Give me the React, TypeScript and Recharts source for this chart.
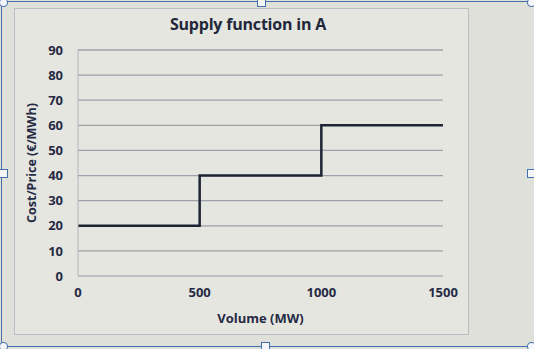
import { LineChart, Line, XAxis, YAxis, CartesianGrid } from "recharts"

const volumes = [0, 500, 1000, 1500]
const prices = [20, 40, 60, 60]
const xTicks = [0, 500, 1000, 1500]
const yTicks = [0, 10, 20, 30, 40, 50, 60, 70, 80, 90]

const data = volumes.map((v, i) => ({ volume: v, price: prices[i] }))

const font = "'Open Sans', sans-serif"
const ink = "#262a44"
const blue = "#4470ab"

function Handle({ x, y, round }: { x: number; y: number; round?: boolean }) {
  return (
    <div
      style={{
        position: "absolute",
        left: x - 4,
        top: y - 4,
        width: 7,
        height: 7,
        background: "#f4f6fa",
        border: `1px solid ${blue}`,
        borderRadius: round ? 4 : 0,
      }}
    />
  )
}

export default function App() {
  return (
    <div
      style={{
        position: "fixed",
        left: 0,
        top: 0,
        width: 534,
        height: 349,
        background: "#dfe0da",
        overflow: "hidden",
        fontFamily: font,
      }}
    >
      {/* selection frame */}
      <div
        style={{
          position: "absolute",
          left: 1,
          top: 1,
          width: 530,
          height: 344,
          border: `1.5px solid ${blue}`,
          borderRight: "none",
        }}
      />
      {/* chart area */}
      <div
        style={{
          position: "absolute",
          left: 14,
          top: 8,
          width: 453,
          height: 325,
          background: "#e5e6e0",
          border: "1px solid #babdc2",
        }}
      />
      <div
        style={{
          position: "absolute",
          left: 0,
          top: 13,
          width: 496,
          textAlign: "center",
          fontSize: 16,
          fontWeight: 700,
          color: "#22263a",
          letterSpacing: -0.2,
        }}
      >
        Supply function in A
      </div>
      <div style={{ position: "absolute", left: 0, top: 0 }}>
        <LineChart
          width={534}
          height={349}
          data={data}
          margin={{ top: 50, right: 91, left: 18, bottom: 26 }}
        >
          <CartesianGrid vertical={false} stroke="#9da1a8" strokeWidth={1.3} />
          <XAxis
            dataKey="volume"
            type="number"
            domain={[0, 1500]}
            ticks={xTicks}
            height={47}
            tickSize={0}
            tickMargin={12}
            axisLine={{ stroke: "#cdd0cc" }}
            tick={{ fill: ink, fontSize: 13, fontWeight: 700, fontFamily: font }}
            label={{
              value: "Volume (MW)",
              position: "insideBottom",
              offset: 0,
              fill: ink,
              fontSize: 13,
              fontWeight: 700,
              fontFamily: font,
            }}
          />
          <YAxis
            type="number"
            domain={[0, 90]}
            ticks={yTicks}
            width={60}
            tickSize={0}
            tickMargin={15}
            axisLine={{ stroke: "#b3b6ba" }}
            tick={{ fill: ink, fontSize: 13, fontWeight: 700, fontFamily: font }}
            label={{
              value: "Cost/Price (€/MWh)",
              angle: -90,
              position: "insideLeft",
              offset: 14,
              style: { textAnchor: "middle" },
              fill: ink,
              fontSize: 12.5,
              fontWeight: 700,
              fontFamily: font,
            }}
          />
          <Line
            type="stepAfter"
            dataKey="price"
            stroke="#1e2433"
            strokeWidth={2.5}
            dot={false}
            isAnimationActive={false}
          />
        </LineChart>
      </div>
      <Handle x={3} y={2} round />
      <Handle x={261} y={2} />
      <Handle x={3} y={173} />
      <Handle x={531} y={173} />
      <Handle x={3} y={346} round />
      <Handle x={265} y={346} />
      <Handle x={531} y={346} round />
      <Handle x={531} y={2} round />
    </div>
  )
}
